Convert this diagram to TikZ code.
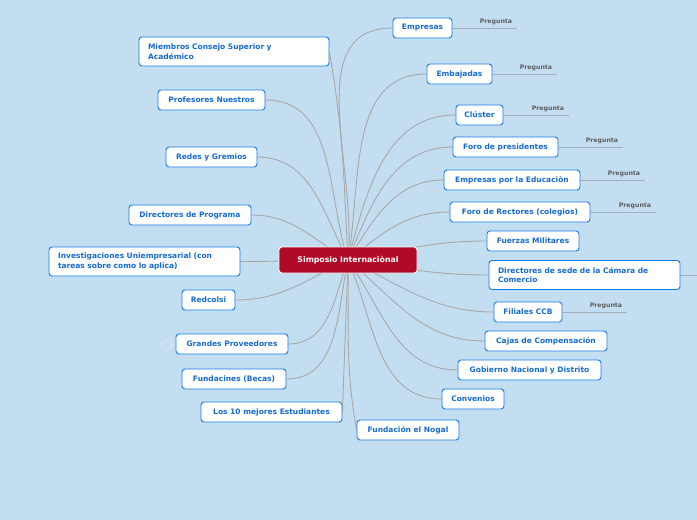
\documentclass[tikz,border=0pt]{standalone}
\usepackage{fontspec}
\setmainfont{DejaVu Sans}
\usetikzlibrary{backgrounds,calc}
\definecolor{bg}{RGB}{196,222,241}
\definecolor{nodeblue}{RGB}{24,122,232}
\definecolor{textblue}{RGB}{22,108,206}
\definecolor{centerred}{RGB}{176,10,40}
\definecolor{conngray}{RGB}{168,168,168}
\definecolor{preggray}{RGB}{95,95,95}
\definecolor{pregline}{RGB}{165,175,185}
\tikzset{
  topic/.style={draw=nodeblue, fill=white, line width=0.9pt, rounded corners=3pt,
    text=textblue, font=\fontsize{7.5}{9.5}\selectfont\bfseries, inner sep=0pt,
    minimum height=20pt, anchor=center},
  twoline/.style={topic, minimum height=29pt, align=left, text width=#1},
  central/.style={draw=white, fill=centerred, line width=0.9pt, rounded corners=3pt,
    text=white, font=\fontsize{7.8}{9}\selectfont\bfseries, inner sep=0pt,
    minimum width=138pt, minimum height=26pt},
  conn/.style={draw=conngray, line width=0.9pt},
  pregtext/.style={text=preggray, font=\fontsize{6.2}{7}\selectfont\bfseries, inner sep=0pt},
  pregconn/.style={draw=pregline, line width=0.7pt},
}
\begin{document}
\begin{tikzpicture}[x=1pt,y=-1pt]
\useasboundingbox (0,0) rectangle (697,520);
% central
\node[central] (c) at (348,260) {Simposio Internaciònal};
% right side
\node[topic, minimum width=59] (emp) at (422.5,28) {Empresas};
\node[topic, minimum width=65] (emb) at (459.5,74) {Embajadas};
\node[topic, minimum width=47] (clu) at (479.5,115) {Clúster};
\node[topic, minimum width=105] (forop) at (505.5,147) {Foro de presidentes};
\node[topic, minimum width=136] (empedu) at (512,180) {Empresas por la Educaciòn};
\node[topic, minimum width=140] (forr) at (520,212) {Foro de Rectores (colegios)};
\node[topic, minimum width=92] (fuer) at (533,241) {Fuerzas Militares};
\node[twoline=173pt, minimum width=191] (dirs) at (584.5,275) {Directores de sede de la Cámara de\\Comercio};
\node[topic, minimum width=68] (fil) at (528,312) {Filiales CCB};
\node[topic, minimum width=122] (caj) at (546,341) {Cajas de Compensación};
\node[topic, minimum width=143] (gob) at (529.5,370) {Gobierno Nacional y Distrito};
\node[topic, minimum width=62] (conv) at (473,399) {Convenios};
\node[topic, minimum width=102] (nog) at (408,430) {Fundación el Nogal};
% left side
\node[twoline=172pt, minimum width=190] (miem) at (234,51.5) {Miembros Consejo Superior y\\Académico};
\node[topic, minimum width=107] (prof) at (211.5,100) {Profesores Nuestros};
\node[topic, minimum width=91] (redes) at (211.5,157) {Redes y Gremios};
\node[topic, minimum width=122] (dirp) at (190,215) {Directores de Programa};
\node[twoline=173pt, minimum width=191] (inv) at (144.5,261.5) {Investigaciones Uniempresarial (con\\tareas sobre como lo aplica)};
\node[topic, minimum width=53] (redc) at (208.5,300) {Redcolsi};
\node[topic, minimum width=112] (grand) at (232,344) {Grandes Proveedores};
\node[topic, minimum width=104] (fund) at (234,379) {Fundacines (Becas)};
\node[topic, minimum width=141] (diez) at (271.5,412) {Los 10 mejores Estudiantes};
% collapsed marker
\node[circle, draw=white!35!bg, line width=0.7pt, minimum size=10pt, inner sep=0pt] (gpc) at (167,345) {};
% Pregunta labels
\node[pregtext] (q1) at (496,21.5) {Pregunta};
\node[pregtext] (q2) at (536,67.5) {Pregunta};
\node[pregtext] (q3) at (548,108.5) {Pregunta};
\node[pregtext] (q4) at (602,140.5) {Pregunta};
\node[pregtext] (q5) at (624,173.5) {Pregunta};
\node[pregtext] (q6) at (635,205.5) {Pregunta};
\node[pregtext] (q7) at (606,305.5) {Pregunta};
\coordinate (e1) at (517,28);
\coordinate (e2) at (557,74);
\coordinate (e3) at (569,115);
\coordinate (e4) at (623,147);
\coordinate (e5) at (645,180);
\coordinate (e6) at (656,212);
\coordinate (e7) at (627,312);
\coordinate (edge) at (697,275);
\begin{pgfonlayer}{background}
\fill[bg] (0,0) rectangle (697,520);
% right connectors
\draw[conn] (c.center) to[out=84,in=180] (emp.west);
\draw[conn] (c.center) to[out=80,in=180] (emb.west);
\draw[conn] (c.center) to[out=75,in=180] (clu.west);
\draw[conn] (c.center) to[out=68,in=180] (forop.west);
\draw[conn] (c.center) to[out=58,in=180] (empedu.west);
\draw[conn] (c.center) to[out=38,in=180] (forr.west);
\draw[conn] (c.center) to[out=10,in=180] (fuer.west);
\draw[conn] (c.center) to[out=-8,in=180] (dirs.west);
\draw[conn] (c.center) to[out=-25,in=180] (fil.west);
\draw[conn] (c.center) to[out=-40,in=180] (caj.west);
\draw[conn] (c.center) to[out=-55,in=180] (gob.west);
\draw[conn] (c.center) to[out=-66,in=180] (conv.west);
\draw[conn] (c.center) to[out=-89,in=100] (nog.west);
% left connectors
\draw[conn] (c.center) to[out=93,in=-80] ($(miem.east)+(0,1)$);
\draw[conn] (c.center) to[out=108,in=0] (prof.east);
\draw[conn] (c.center) to[out=118,in=0] (redes.east);
\draw[conn] (c.center) to[out=150,in=0] (dirp.east);
\draw[conn] (c.center) to[out=180,in=0] (inv.east);
\draw[conn] (c.center) to[out=205,in=0] (redc.east);
\draw[conn] (c.center) to[out=250,in=0] (grand.east);
\draw[conn] (c.center) to[out=258,in=0] (fund.east);
\draw[conn] (c.center) to[out=-92,in=88] (diez.east);
% collapsed marker link
\draw[draw=white!35!bg, line width=0.7pt] (gpc.east) -- (grand.west);
% pregunta lines
\draw[pregconn] (emp.east) -- (e1);
\draw[pregconn] (emb.east) -- (e2);
\draw[pregconn] (clu.east) -- (e3);
\draw[pregconn] (forop.east) -- (e4);
\draw[pregconn] (empedu.east) -- (e5);
\draw[pregconn] (forr.east) -- (e6);
\draw[pregconn] (fil.east) -- (e7);
\draw[pregconn] (dirs.east) -- (edge);
\end{pgfonlayer}
\end{tikzpicture}
\end{document}
